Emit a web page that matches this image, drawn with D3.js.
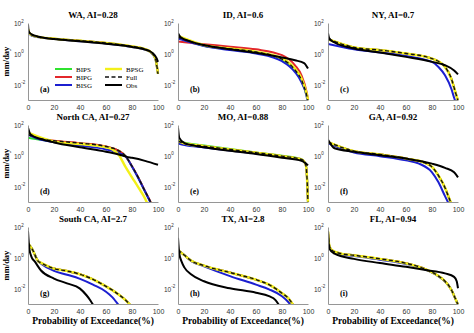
<!DOCTYPE html>
<html>
<head>
<meta charset="utf-8">
<script src="https://cdn.jsdelivr.net/npm/d3@7/dist/d3.min.js"></script>
<style>
  html, body { margin: 0; padding: 0; background: #fff; }
  svg { display: block; }
</style>
</head>
<body>
<svg id="chart" width="474" height="333"></svg>
<script>
// Flow duration curves: daily flow (mm/day) vs. probability of exceedance (%)
// Each series is a list of [exceedance %, mm/day] points.

const panelTitles = ["WA, AI=0.28", "ID, AI=0.6", "NY, AI=0.7",
                     "North CA, AI=0.27", "MO, AI=0.88", "GA, AI=0.92",
                     "South CA, AI=2.7", "TX, AI=2.8", "FL, AI=0.94"];
const panelTags = ["(a)", "(b)", "(c)", "(d)", "(e)", "(f)", "(g)", "(h)", "(i)"];
const seriesNames = ["BIPS", "BIPG", "BISG", "BPSG", "Full", "Obs"];
const xTicks = [0, 20, 40, 60, 80, 100];
const yTickExponents = [-2, 0, 2];

// (a) WA
const waModel = [[0,40],[1,22],[5,14],[20,9.5],[40,7],[60,5],[80,3],[90,2],[95,1.2],[98,0.5],[99.5,0.1],[100,0.05]];
const waBISG  = [[0,30],[1,20],[5,13],[20,9],[40,6.6],[60,4.7],[80,2.8],[90,1.9],[95,1.1],[98,0.45],[99.5,0.09],[100,0.05]];
const waObs   = [[0,80],[0.5,30],[2,20],[10,12],[20,9],[40,6.5],[60,4.5],[80,2.8],[90,1.9],[96,1.1],[99,0.5],[100,0.3]];

// (b) ID
const idBIPS = [[0,11],[20,3.3],[40,2.0],[60,1.2],[80,0.42],[90,0.085],[95,0.018],[99,0.0019],[100,0.0008]];
const idBIPG = [[0,6.3],[5,5.6],[20,4.2],[40,2.9],[60,1.95],[80,0.81],[90,0.18],[95,0.04],[99,0.0032],[100,0.0011]];
const idBISG = [[0,10],[20,3.2],[40,1.74],[60,1.05],[80,0.33],[90,0.065],[95,0.014],[99,0.0016],[99.6,0.0008]];
const idBPSG = [[0,14.5],[20,3.7],[40,2.2],[60,1.35],[80,0.5],[90,0.107],[95,0.025],[99,0.0025],[100,0.001]];
const idFull = [[0,12],[20,3.5],[40,2.1],[60,1.3],[80,0.45],[90,0.09],[95,0.02],[99,0.002],[100,0.0009]];
const idObs  = [[0,22],[2,12],[10,6.2],[20,3.7],[40,1.95],[60,1.17],[80,0.58],[90,0.38],[97,0.25],[100,0.11]];

// (c) NY
const nyModel = [[0,8.9],[20,2.6],[40,1.74],[60,1.05],[80,0.49],[90,0.14],[95,0.023],[98,0.0032],[100,0.0009]];
const nyBISG  = [[0,4.4],[20,2.0],[40,1.23],[60,0.71],[80,0.3],[85,0.14],[90,0.04],[95,0.005],[97,0.0014],[98,0.0008]];
const nyObs   = [[0,22],[1,10],[5,5.4],[20,2.2],[40,1.23],[60,0.63],[80,0.3],[90,0.18],[97,0.083],[100,0.046]];

// (d) North CA
const ncBIPS = [[0,15],[10,11],[20,9],[40,6.3],[60,3.9],[70,2.1],[75,0.95],[80,0.2],[85,0.035],[90,0.0048],[93,0.0016],[94.5,0.0009]];
const ncBIPG = [[0,24],[10,12.3],[20,9.5],[40,6.6],[60,4.0],[70,2.1],[75,0.95],[80,0.21],[85,0.037],[90,0.0051],[93,0.0017],[94.6,0.0009]];
const ncBISG = [[0,24],[10,11],[20,7.9],[40,4.6],[60,2.6],[70,1.5],[75,0.95],[80,0.2],[85,0.034],[90,0.005],[94,0.001]];
const ncBPSG = [[0,32],[20,8.5],[40,5.8],[60,3.6],[65,2.6],[70,1.1],[75,0.19],[80,0.04],[85,0.0085],[90,0.0017],[91.5,0.0009]];
const ncFull = [[0,24],[10,12.3],[20,9.5],[40,6.6],[60,4.0],[70,2.1],[75,0.95],[80,0.21],[85,0.037],[90,0.0051],[93,0.0017],[94.6,0.0009]];
const ncObs  = [[0,66],[2,24],[10,12.3],[20,7.4],[40,3.6],[60,1.86],[70,1.23],[76,0.85],[80,0.74],[90,0.47],[100,0.26]];

// (e) MO
const moBIPS = [[0,10],[5,7.1],[20,4.7],[40,2.75],[60,1.66],[80,1.0],[95,0.6],[98,0.32],[99,0.09],[99.5,0.0126],[100,0.001]];
const moModel = [[0,8.9],[5,6.3],[20,4.2],[40,2.6],[60,1.58],[80,0.95],[95,0.58],[98,0.31],[99,0.085],[99.5,0.01],[100,0.001]];
const moBISG = [[0,6.3],[5,5],[20,3.5],[40,2.2],[60,1.4],[80,0.89],[95,0.56],[98,0.3],[99,0.08],[99.5,0.01],[100,0.001]];
const moObs  = [[0,66],[1,14.5],[5,6.6],[20,3.6],[40,2.1],[60,1.3],[80,0.74],[95,0.47],[98,0.34],[100,0.24]];

// (f) GA
const gaModel = [[0,7.8],[20,2.0],[40,1.23],[60,0.66],[75,0.34],[80,0.19],[85,0.051],[90,0.0085],[93,0.0019],[94.5,0.0009]];
const gaBISG  = [[0,6.6],[20,1.66],[40,0.95],[60,0.51],[70,0.31],[80,0.085],[85,0.019],[90,0.0024],[92.5,0.0009]];
const gaObs   = [[0,11],[5,3.1],[20,1.86],[40,1.1],[60,0.66],[80,0.31],[90,0.166],[97,0.085],[100,0.04]];

// (g) South CA
const scModel = [[0,8.7],[3,4],[8,0.58],[10,0.47],[20,0.2],[30,0.14],[40,0.085],[50,0.04],[60,0.014],[70,0.004],[75,0.0018],[78.5,0.0009]];
const scBISG  = [[0,8.7],[3,4],[8,0.58],[10,0.42],[20,0.14],[30,0.08],[40,0.043],[50,0.018],[60,0.0063],[65,0.0027],[69.5,0.0009]];
const scObs   = [[0,54],[1,4],[3,1.0],[5,0.6],[10,0.15],[20,0.045],[30,0.022],[40,0.01],[45,0.0037],[48,0.0017],[50,0.0009]];

// (h) TX
const txModel = [[0,3.2],[5,1.45],[10,0.66],[20,0.31],[40,0.11],[60,0.038],[70,0.018],[80,0.005],[85,0.0023],[88.5,0.0009]];
const txBISG  = [[0,3.2],[5,1.45],[10,0.63],[20,0.28],[40,0.065],[60,0.018],[70,0.009],[80,0.0032],[85,0.0013],[86.5,0.0009]];
const txObs   = [[0,20],[1,1.86],[3,0.51],[5,0.23],[10,0.085],[20,0.03],[40,0.0105],[60,0.0054],[70,0.0032],[75,0.0018],[77.5,0.0009]];

// (i) FL
const flModel = [[0,54],[1,6.3],[3,3.1],[10,1.86],[20,1.45],[40,0.85],[60,0.44],[75,0.18],[85,0.065],[90,0.03],[95,0.0081],[98,0.0022],[100,0.0009]];
const flBISG  = [[0,54],[1,5.5],[3,2.8],[10,1.7],[20,1.3],[40,0.75],[60,0.4],[75,0.17],[85,0.062],[90,0.029],[95,0.008],[98,0.0022],[100,0.0009]];
const flObs   = [[0,40],[1,4],[5,1.86],[20,0.85],[40,0.46],[60,0.26],[75,0.16],[90,0.098],[97,0.058],[99,0.03],[100,0.0105]];

// series per panel, in the order BIPS, BIPG, BISG, BPSG, Full, Obs
const panelSeries = [
  [waModel, waModel, waBISG, waModel, waModel, waObs],
  [idBIPS, idBIPG, idBISG, idBPSG, idFull, idObs],
  [nyModel, nyModel, nyBISG, nyModel, nyModel, nyObs],
  [ncBIPS, ncBIPG, ncBISG, ncBPSG, ncFull, ncObs],
  [moBIPS, moModel, moBISG, moModel, moModel, moObs],
  [gaModel, gaModel, gaBISG, gaModel, gaModel, gaObs],
  [scModel, scModel, scBISG, scModel, scModel, scObs],
  [txModel, txModel, txBISG, txModel, txModel, txObs],
  [flModel, flModel, flBISG, flModel, flModel, flObs]
];

const seriesStyle = [
  {color: "#2fe22f", width: 2, dash: null},
  {color: "#e3272b", width: 2, dash: null},
  {color: "#1c1fd0", width: 2, dash: null},
  {color: "#f3f01a", width: 2.4, dash: null},
  {color: "#111", width: 1.4, dash: "4,2.5"},
  {color: "#000", width: 2, dash: null}
];

const svg = d3.select("#chart");
const colLeft = [28, 178, 328];
const rowTop = [23, 125, 227];
const plotW = 130, plotH = 77;
const serif = "'Liberation Serif', 'Times New Roman', serif";
const sans = "'Liberation Sans', Arial, sans-serif";

panelSeries.forEach((series, i) => {
  const col = i % 3, row = Math.floor(i / 3);
  const g = svg.append("g").attr("transform", `translate(${colLeft[col]},${rowTop[row]})`);

  const x = d3.scaleLinear().domain([0, 100]).range([0, plotW]);
  const y = d3.scaleLog().domain([1e-3, 1e2]).range([plotH, 0]);

  const clipId = "clip" + i;
  g.append("clipPath").attr("id", clipId)
    .append("rect").attr("x", 0).attr("y", -1).attr("width", plotW + 2).attr("height", plotH + 1);

  const line = d3.line()
    .x(d => x(d[0]))
    .y(d => y(Math.max(d[1], 1e-4)))
    .curve(d3.curveMonotoneX);

  const lines = g.append("g").attr("clip-path", `url(#${clipId})`);
  series.forEach((pts, k) => {
    const st = seriesStyle[k];
    lines.append("path")
      .attr("d", line(pts))
      .attr("fill", "none")
      .attr("stroke", st.color)
      .attr("stroke-width", st.width)
      .attr("stroke-linejoin", "round")
      .attr("stroke-dasharray", st.dash);
  });

  // axes: left and bottom spines, no tick marks
  const xAxis = d3.axisBottom(x).tickValues(xTicks).tickSize(0).tickPadding(5);
  const xg = g.append("g").attr("transform", `translate(0,${plotH})`).call(xAxis);
  xg.select(".domain").attr("stroke", "#8a8a8a").attr("stroke-width", 0.9);
  xg.selectAll("text").attr("font-family", sans).attr("font-size", 7).attr("fill", "#333");

  const yAxis = d3.axisLeft(y).tickValues(yTickExponents.map(e => Math.pow(10, e))).tickSize(0).tickFormat("");
  const yg = g.append("g").call(yAxis);
  yg.select(".domain").attr("stroke", "#8a8a8a").attr("stroke-width", 0.9);
  yg.selectAll(".tick").each(function(v) {
    const e = Math.round(Math.log10(v));
    const t = d3.select(this).append("text")
      .attr("x", -14).attr("y", 2.5)
      .attr("text-anchor", "start")
      .attr("font-family", sans).attr("font-size", 6.5).attr("fill", "#333");
    t.append("tspan").text("10");
    t.append("tspan").attr("dy", -3.5).attr("font-size", 4.5).text(String(e));
  });

  // panel title and tag
  g.append("text")
    .attr("x", plotW / 2).attr("y", -5)
    .attr("text-anchor", "middle")
    .attr("font-family", serif).attr("font-weight", "bold").attr("font-size", 9)
    .text(panelTitles[i]);
  g.append("text")
    .attr("x", 12).attr("y", 69)
    .attr("font-family", serif).attr("font-weight", "bold").attr("font-size", 8)
    .text(panelTags[i]);

  if (col === 0) {
    g.append("text")
      .attr("transform", `translate(${-19},${plotH / 2}) rotate(-90)`)
      .attr("text-anchor", "middle")
      .attr("font-family", serif).attr("font-weight", "bold").attr("font-size", 8.5)
      .text("mm/day");
  }
  if (row === 2) {
    g.append("text")
      .attr("x", plotW / 2).attr("y", plotH + 20)
      .attr("text-anchor", "middle")
      .attr("font-family", serif).attr("font-weight", "bold").attr("font-size", 9.5)
      .text("Probability of Exceedance(%)");
  }

  // legend in the first panel
  if (i === 0) {
    const lg = g.append("g");
    seriesNames.forEach((name, k) => {
      const c = Math.floor(k / 3), r = k % 3;
      const lx = 27 + c * 50, ly = 46 + r * 8;
      const st = seriesStyle[k];
      lg.append("line")
        .attr("x1", lx).attr("x2", lx + 17).attr("y1", ly).attr("y2", ly)
        .attr("stroke", st.color).attr("stroke-width", st.width)
        .attr("stroke-dasharray", st.dash);
      lg.append("text")
        .attr("x", lx + 21).attr("y", ly + 2.5)
        .attr("font-family", serif).attr("font-size", 7)
        .text(name);
    });
  }
});
</script>
</body>
</html>
